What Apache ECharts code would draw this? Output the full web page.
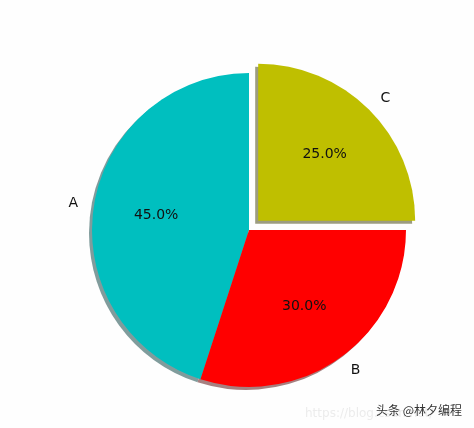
<!DOCTYPE html>
<html>
<head>
<meta charset="utf-8">
<script src="https://cdn.jsdelivr.net/npm/echarts@6/dist/echarts.min.js"></script>
<style>
html,body{margin:0;padding:0;background:#fefefe;}
#chart{width:474px;height:428px;}
</style>
</head>
<body>
<div id="chart"></div>
<script>
const categories = ['A', 'B', 'C'];
const values = [45, 30, 25];
const exploded = ['C'];

const sliceColors = ['#00bfbf', '#ff0000', '#bfbf00'];
const shadowColors = ['#809c9c', '#a68080', '#9c9c80'];

const chart = echarts.init(document.getElementById('chart'), null, {renderer: 'canvas'});

function items(colorList, withSel) {
  return categories.map((c, i) => ({
    name: c,
    value: values[i],
    selected: exploded.indexOf(c) >= 0,
    itemStyle: {color: colorList ? colorList[i] : 'rgba(0,0,0,0)'}
  }));
}

const common = {
  type: 'pie',
  startAngle: 90,
  clockwise: false,
  selectedMode: 'single',
  selectedOffset: 13,
  avoidLabelOverlap: false,
  silent: true,
  animation: false,
  emphasis: {disabled: true, scale: false},
  select: {itemStyle: {borderWidth: 0}}
};

chart.setOption({
  backgroundColor: '#fefefe',
  animation: false,
  series: [
    Object.assign({}, common, {
      name: 'shadow',
      center: [246, 233],
      radius: 157,
      label: {show: false},
      labelLine: {show: false},
      itemStyle: {borderWidth: 0},
      data: items(shadowColors)
    }),
    Object.assign({}, common, {
      name: 'main',
      center: [249, 230],
      radius: 157,
      itemStyle: {borderWidth: 0},
      label: {
        show: true,
        position: 'outside',
        formatter: '{b}',
        color: '#111',
        fontFamily: 'DejaVu Sans',
        fontSize: 14,
        distanceToLabelLine: 0
      },
      labelLine: {show: false, length: 16, length2: 0},
      data: items(sliceColors)
    }),
    Object.assign({}, common, {
      name: 'pct',
      center: [249, 230],
      radius: 182,
      itemStyle: {borderWidth: 0},
      label: {
        show: true,
        position: 'inside',
        formatter: p => p.percent.toFixed(1) + '%',
        color: '#111',
        fontFamily: 'DejaVu Sans',
        fontSize: 14
      },
      labelLine: {show: false},
      data: items(null)
    })
  ],
  graphic: [
    {
      type: 'text', left: 305, top: 408, silent: true,
      style: {text: 'https://blog.csdn.net/', fill: '#ececec', font: '12px "DejaVu Sans"'}
    },
    {
      type: 'text', right: 12, top: 404, silent: true,
      style: {text: '头条 @林夕编程', fill: '#333', font: '12px "Noto Sans CJK SC"'}
    }
  ]
});
</script>
</body>
</html>
